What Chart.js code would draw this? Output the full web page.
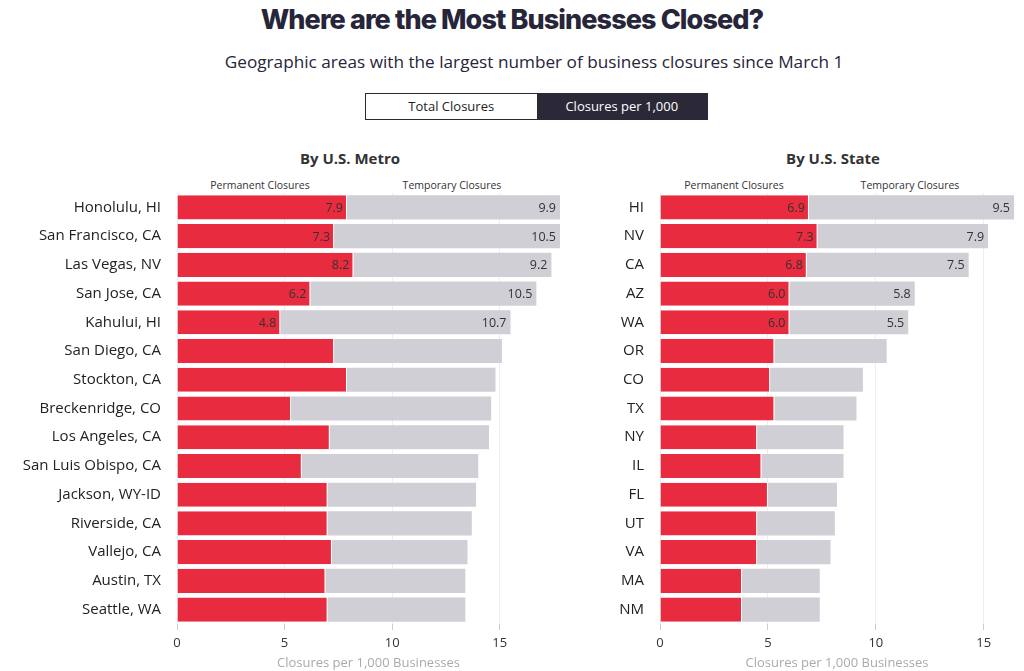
<!DOCTYPE html>
<html>
<head>
<meta charset="utf-8">
<script src="https://cdn.jsdelivr.net/npm/chart.js@4"></script>
<style>
  body { margin: 0; background: #fff; font-family: "Open Sans", sans-serif; color: #222; }
  #page { position: relative; width: 1024px; height: 671px; overflow: hidden; }
  h1 { position: absolute; top: 3px; left: 0; width: 1024px; margin: 0; text-align: center;
       font-family: Inter, sans-serif; font-weight: 800; font-size: 27px; letter-spacing: -0.9px; color: #272539; }
  .sub { position: absolute; top: 50px; left: 22px; width: 1024px; text-align: center; font-size: 17.2px; color: #272539; }
  .toggle { position: absolute; top: 93px; left: 365px; width: 343px; height: 27px; display: flex;
            border: 1px solid #2b2838; box-sizing: border-box; font-size: 13px; }
  .toggle div { flex: 1; text-align: center; line-height: 25px; }
  .toggle .on { background: #2b2838; color: #fff; }
  .ptitle { position: absolute; top: 148px; font-weight: 700; font-size: 15px; color: #333; text-align: center; width: 300px; }
  .colh { position: absolute; top: 178px; font-size: 10.5px; color: #333; text-align: center; width: 160px; }
  canvas { position: absolute; }
</style>
</head>
<body>
<div id="page">
  <h1>Where are the Most Businesses Closed?</h1>
  <div class="sub">Geographic areas with the largest number of business closures since March 1</div>
  <div class="toggle"><div>Total Closures</div><div class="on">Closures per 1,000</div></div>

  <div class="ptitle" style="left:200px">By U.S. Metro</div>
  <div class="colh" style="left:180px">Permanent Closures</div>
  <div class="colh" style="left:372px">Temporary Closures</div>

  <div class="ptitle" style="left:683px">By U.S. State</div>
  <div class="colh" style="left:654px">Permanent Closures</div>
  <div class="colh" style="left:830px">Temporary Closures</div>

  <canvas id="metroChart" style="left:0;top:190px" width="570" height="481"></canvas>
  <canvas id="stateChart" style="left:520px;top:190px" width="504" height="481"></canvas>
</div>
<script>
// Datos por área metropolitana
const metros = ['Honolulu, HI', 'San Francisco, CA', 'Las Vegas, NV', 'San Jose, CA', 'Kahului, HI',
    'San Diego, CA', 'Stockton, CA', 'Breckenridge, CO', 'Los Angeles, CA', 'San Luis Obispo, CA',
    'Jackson, WY-ID', 'Riverside, CA', 'Vallejo, CA', 'Austin, TX', 'Seattle, WA'];
const metroPermanent = [7.9, 7.3, 8.2, 6.2, 4.8, 7.3, 7.9, 5.3, 7.1, 5.8, 7.0, 7.0, 7.2, 6.9, 7.0];
const metroTemporary = [9.9, 10.5, 9.2, 10.5, 10.7, 7.8, 6.9, 9.3, 7.4, 8.2, 6.9, 6.7, 6.3, 6.5, 6.4];

// Datos por estado
const states = ['HI', 'NV', 'CA', 'AZ', 'WA', 'OR', 'CO', 'TX', 'NY', 'IL', 'FL', 'UT', 'VA', 'MA', 'NM'];
const statePermanent = [6.9, 7.3, 6.8, 6.0, 6.0, 5.3, 5.1, 5.3, 4.5, 4.7, 5.0, 4.5, 4.5, 3.8, 3.8];
const stateTemporary = [9.5, 7.9, 7.5, 5.8, 5.5, 5.2, 4.3, 3.8, 4.0, 3.8, 3.2, 3.6, 3.4, 3.6, 3.6];

const xTicks = [0, 5, 10, 15];
const labeledRows = 5; // solo las primeras filas llevan valor

const RED = '#e92b3f';
const GRAY = '#cfcfd5';

// Escribe el valor al final de cada segmento
const valueLabels = {
    id: 'valueLabels',
    afterDatasetsDraw(chart) {
        const ctx = chart.ctx;
        ctx.save();
        ctx.font = '12.5px "Open Sans"';
        ctx.fillStyle = '#333';
        ctx.textAlign = 'right';
        ctx.textBaseline = 'middle';
        chart.data.datasets.forEach((ds, i) => {
            chart.getDatasetMeta(i).data.forEach((bar, j) => {
                if (j >= labeledRows) return;
                ctx.fillText(ds.data[j].toFixed(1), bar.x - 4, bar.y + 1);
            });
        });
        ctx.restore();
    }
};

function crearGrafico(id, labels, permanent, temporary, maxX, axisWidth) {
    const ctx = document.getElementById(id).getContext('2d');
    return new Chart(ctx, {
        type: 'bar',
        data: {
            labels: labels,
            datasets: [
                { label: 'Permanent Closures', data: permanent, backgroundColor: RED,
                  borderColor: '#fff', borderWidth: { right: 1 }, borderSkipped: false,
                  categoryPercentage: 1, barPercentage: 0.84 },
                { label: 'Temporary Closures', data: temporary, backgroundColor: GRAY,
                  borderWidth: 0, categoryPercentage: 1, barPercentage: 0.84 }
            ]
        },
        options: {
            indexAxis: 'y',
            responsive: false,
            animation: false,
            layout: { padding: { left: 0, right: 10, top: 3, bottom: 0 } },
            plugins: { legend: { display: false }, tooltip: { enabled: false } },
            scales: {
                x: {
                    stacked: true,
                    min: 0,
                    max: maxX,
                    afterBuildTicks: scale => { scale.ticks = xTicks.map(v => ({ value: v })); },
                    afterFit: scale => { scale.height = 47; },
                    grid: { color: '#eeeeee', drawTicks: true, tickLength: 6, tickColor: '#ccc' },
                    border: { display: false },
                    ticks: { color: '#333', font: { size: 13, family: 'Open Sans' }, padding: 5 },
                    title: { display: true, text: 'Closures per 1,000 Businesses', color: '#aaa',
                             font: { size: 13, family: 'Open Sans' }, padding: { top: 5, bottom: 0 } }
                },
                y: {
                    stacked: true,
                    afterFit: scale => {
                        scale.width = axisWidth;
                        scale.paddingTop = 0;
                        scale.paddingBottom = 0;
                    },
                    grid: { display: false, drawTicks: false },
                    border: { display: false },
                    ticks: { color: '#222', font: { size: 15, family: 'Open Sans' }, padding: 16 }
                }
            }
        },
        plugins: [valueLabels]
    });
}

crearGrafico('metroChart', metros, metroPermanent, metroTemporary, 17.8, 177);
crearGrafico('stateChart', states, statePermanent, stateTemporary, 16.4, 140);
</script>
</body>
</html>
